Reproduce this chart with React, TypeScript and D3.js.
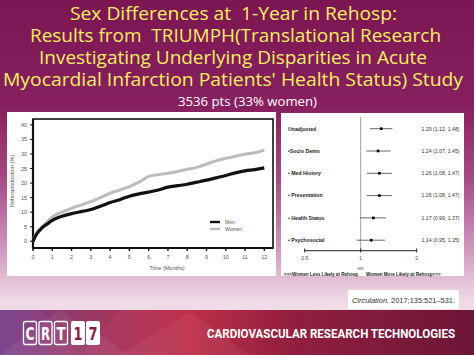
import React from "react";
import * as d3 from "d3";

const titleLines = [
  "Sex Differences at  1-Year in Rehosp:",
  "Results from  TRIUMPH(Translational Research",
  "Investigating Underlying Disparities in Acute",
  "Myocardial Infarction Patients' Health Status) Study",
];
const subtitle = "3536 pts (33% women)";

const months = [0, 0.1, 0.25, 0.5, 0.75, 1, 1.25, 1.5, 2, 2.5, 3, 3.5, 4, 4.5, 5, 5.5, 6, 6.5, 7, 7.5, 8, 8.5, 9, 9.5, 10, 10.5, 11, 11.5, 12];
const menValues = [0, 1.5, 3, 4.8, 6, 7.2, 8, 8.6, 9.5, 10.2, 10.9, 12, 13.3, 14.3, 15.5, 16.3, 16.9, 17.6, 18.6, 19.1, 19.6, 20.3, 21, 21.8, 22.6, 23.5, 24.2, 24.6, 25.2];
const womenValues = [0, 1.8, 3.4, 5.2, 6.8, 8.4, 9.3, 10, 11.3, 12.5, 13.6, 15, 16.5, 17.6, 18.8, 20.3, 22.3, 22.9, 23.4, 24, 24.7, 25.4, 26.5, 27.6, 28.5, 29.2, 29.9, 30.4, 31.3];
const yTicks = [0, 5, 10, 15, 20, 25, 30, 35, 40];
const xTicks = [0, 1, 2, 3, 4, 5, 6, 7, 8, 9, 10, 11, 12];

const models = ["Unadjusted", "\u2022Socio Demo", "\u2022 Med History", "\u2022 Presentation", "\u2022 Health Status", "\u2022 Psychosocial"];
const hr = [1.29, 1.24, 1.26, 1.26, 1.17, 1.14];
const lower = [1.12, 1.07, 1.08, 1.08, 0.99, 0.95];
const upper = [1.48, 1.45, 1.47, 1.47, 1.37, 1.35];
const hrTicks = [0.5, 1, 2];

const titleFont = "'Open Sans', 'DejaVu Sans', sans-serif";
const small = "'Liberation Sans', Arial, sans-serif";

export default function App() {
  const x = d3.scaleLinear().domain([0, 12.45]).range([33, 273]);
  const y = d3.scaleLinear().domain([-2.3, 42]).range([248, 119]);
  const line = d3
    .line<number>()
    .x((_, i) => x(months[i]))
    .y((d) => y(d))
    .curve(d3.curveMonotoneX);

  const fx = d3.scaleLog().domain([0.5, 2]).range([304.7, 416.7]);
  const rowY = (i: number) => 128.7 + i * 22.3;

  const titleX = [70, 30, 39, 3];
  const titleW = [327, 411, 388, 460];

  return (
    <svg width={474} height={355} style={{ position: "absolute", left: 0, top: 0 }}>
      <defs>
        <linearGradient id="bg" x1="0" y1="0" x2="0" y2="1">
          <stop offset="0" stopColor="#7c1652" />
          <stop offset="0.3" stopColor="#88205f" />
          <stop offset="0.5" stopColor="#a44a84" />
          <stop offset="0.7" stopColor="#cf98bd" />
          <stop offset="0.85" stopColor="#efdbe7" />
          <stop offset="1" stopColor="#f4e6ee" />
        </linearGradient>
        <linearGradient id="banner" x1="0" y1="0" x2="1" y2="0">
          <stop offset="0" stopColor="#7a4690" />
          <stop offset="0.2" stopColor="#a43c66" />
          <stop offset="0.4" stopColor="#c0304a" />
          <stop offset="0.6" stopColor="#94203f" />
          <stop offset="1" stopColor="#6c1538" />
        </linearGradient>
      </defs>
      <rect x={0} y={0} width={474} height={355} fill="url(#bg)" />

      {titleLines.map((t, i) => (
        <text
          key={i}
          x={titleX[i]}
          y={20 + i * 22}
          textLength={titleW[i]}
          lengthAdjust="spacingAndGlyphs"
          fontFamily={titleFont}
          fontSize={18}
          fill="#f6ee62"
          style={{ whiteSpace: "pre" }}
        >
          {t}
        </text>
      ))}
      <text x={178} y={106} textLength={139} lengthAdjust="spacingAndGlyphs" fontFamily={titleFont} fontSize={13} fill="#ffffff">
        {subtitle}
      </text>

      {/* Left panel */}
      <rect x={7} y={112} width={269} height={164} fill="#ffffff" />
      <rect x={x(0)} y={119} width={x(12.45) - x(0)} height={129} fill="none" stroke="#111" strokeWidth={1.6} />
      <line x1={x(0)} x2={x(0)} y1={119} y2={248} stroke="#111" strokeWidth={2.2} />
      <line x1={x(0)} x2={273} y1={248} y2={248} stroke="#111" strokeWidth={2.2} />
      {yTicks.map((t) => (
        <g key={t}>
          <line x1={x(0) - 3} x2={x(0)} y1={y(t)} y2={y(t)} stroke="#111" strokeWidth={1} />
          <text x={27} y={y(t) + 2} textAnchor="end" fontFamily={small} fontSize={5.5} fill="#555">
            {t}
          </text>
        </g>
      ))}
      {xTicks.map((t) => (
        <g key={t}>
          <line x1={x(t)} x2={x(t)} y1={248} y2={251} stroke="#111" strokeWidth={1.4} />
          <text x={x(t)} y={259} textAnchor="middle" fontFamily={small} fontSize={5.5} fill="#555">
            {t}
          </text>
        </g>
      ))}
      <text x={167} y={270} textAnchor="middle" fontFamily={small} fontSize={5.5} fill="#555">
        Time (Months)
      </text>
      <text
        transform="translate(14,181) rotate(-90)"
        textAnchor="middle"
        fontFamily={small}
        fontSize={5.5}
        fill="#555"
      >
        Rehospitalization (%)
      </text>
      <path d={line(womenValues) || ""} fill="none" stroke="#bcbcbc" strokeWidth={3} />
      <path d={line(menValues) || ""} fill="none" stroke="#111" strokeWidth={3.2} />
      <line x1={210} x2={220} y1={222} y2={222} stroke="#111" strokeWidth={2.4} />
      <line x1={210} x2={220} y1={229} y2={229} stroke="#bcbcbc" strokeWidth={2.4} />
      <text x={225} y={224} fontFamily={small} fontSize={5} fill="#555">Men</text>
      <text x={225} y={231} fontFamily={small} fontSize={5} fill="#555">Women</text>

      {/* Right panel */}
      <rect x={281} y={113} width={183} height={163} fill="#ffffff" />
      <line x1={fx(1)} x2={fx(1)} y1={117} y2={250.7} stroke="#888" strokeWidth={0.8} />
      <line x1={fx(0.5)} x2={fx(2)} y1={250.7} y2={250.7} stroke="#222" strokeWidth={1} />
      {hrTicks.map((t) => (
        <g key={t}>
          <line x1={fx(t)} x2={fx(t)} y1={248.5} y2={252.5} stroke="#222" strokeWidth={1} />
          <text x={fx(t)} y={259.5} textAnchor="middle" fontFamily={small} fontSize={5} fill="#444">
            {t}
          </text>
        </g>
      ))}
      <text x={fx(1)} y={270} textAnchor="middle" fontFamily={small} fontSize={4} fill="#444">HR</text>
      <text x={284} y={276} fontFamily={small} fontSize={4.6} fontWeight="bold" fill="#222">
        &lt;&lt;&lt;Women Less Likely at Rehosp
      </text>
      <text x={366} y={276} fontFamily={small} fontSize={4.6} fontWeight="bold" fill="#222">
        Women More Likely at Rehosp&gt;&gt;&gt;
      </text>
      {models.map((m, i) => (
        <g key={m}>
          <text x={288} y={rowY(i) + 1.8} fontFamily={small} fontSize={5.2} fontWeight="bold" fill="#222">
            {m}
          </text>
          <line x1={fx(lower[i])} x2={fx(upper[i])} y1={rowY(i)} y2={rowY(i)} stroke="#555" strokeWidth={0.9} />
          <rect x={fx(hr[i]) - 1.3} y={rowY(i) - 1.3} width={2.6} height={2.6} fill="#000" />
          <text x={421.5} y={rowY(i) + 1.8} fontFamily={small} fontSize={5.2} fill="#333">
            {`${hr[i].toFixed(2)} (${lower[i].toFixed(2)}, ${upper[i].toFixed(2)})`}
          </text>
        </g>
      ))}

      {/* Citation */}
      <rect x={348} y={290} width={111} height={19} fill="#ffffff" />
      <text x={352} y={302.5} fontFamily={small} fontSize={8} fill="#333" textLength={103} lengthAdjust="spacingAndGlyphs">
        <tspan fontStyle="italic">Circulation.</tspan> 2017;135:521–531.
      </text>

      {/* Banner */}
      <rect x={0} y={310} width={474} height={45} fill="url(#banner)" />
      <polygon points="0,355 60,310 130,355" fill="#ffffff" opacity={0.06} />
      <polygon points="120,355 190,312 250,355" fill="#ffffff" opacity={0.05} />
      <polygon points="40,310 120,310 80,355" fill="#000000" opacity={0.05} />
      {["C", "R", "T"].map((c, i) => (
        <g key={c}>
          <rect x={23.5 + i * 15.5} y={321.5} width={13} height={23} rx={2} fill="none" stroke="#fff" strokeWidth={1.3} />
          <text x={30 + i * 15.5} y={340} textAnchor="middle" fontFamily="'DejaVu Sans', sans-serif" fontWeight="bold" fontSize={17} fill="#fff" textLength={9} lengthAdjust="spacingAndGlyphs">
            {c}
          </text>
        </g>
      ))}
      {["1", "7"].map((c, i) => (
        <g key={c}>
          <rect x={71 + i * 15} y={321} width={14} height={24} rx={2} fill="#fff" />
          <text x={78 + i * 15} y={340} textAnchor="middle" fontFamily="'DejaVu Sans', sans-serif" fontWeight="bold" fontSize={17} fill="#8a1c44" textLength={9} lengthAdjust="spacingAndGlyphs">
            {c}
          </text>
        </g>
      ))}
      <text x={207} y={338} textLength={248} lengthAdjust="spacingAndGlyphs" fontFamily="'Roboto', 'DejaVu Sans', sans-serif" fontWeight="bold" fontSize={12} fill="#ffffff">
        CARDIOVASCULAR RESEARCH TECHNOLOGIES
      </text>
    </svg>
  );
}
